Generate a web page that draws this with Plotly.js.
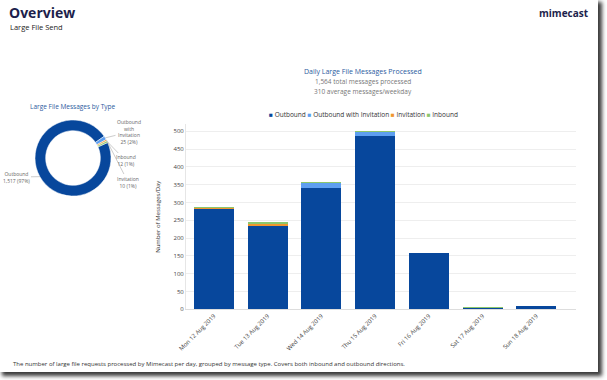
<!DOCTYPE html>
<html><head><meta charset="utf-8">
<script src="https://cdn.plot.ly/plotly-3.0.1.min.js"></script>
<style>
html,body{margin:0;padding:0;background:#fff;width:607px;height:380px;overflow:hidden}
#wrap{position:absolute;left:0;top:0;width:598px;height:372px;background:#fff;box-shadow:3px 3px 4px 1px #3a3a3a}
#chart{width:598px;height:372px}
</style></head><body><div id="wrap"><div id="chart"></div></div>
<script>
const days = ['Mon 12 Aug 2019','Tue 13 Aug 2019','Wed 14 Aug 2019','Thu 15 Aug 2019','Fri 16 Aug 2019','Sat 17 Aug 2019','Sun 18 Aug 2019'];
const seriesNames = ['Outbound','Outbound with Invitation','Invitation','Inbound'];
const outbound = [283,235,341,487,157,5,9];
const outboundInv = [0,0,13,12,0,0,0];
const invitation = [3,6,1,0,0,0,0];
const inbound = [2,4,2,2,0,1,1];
const pieLabels = ['Outbound','Outbound with Invitation','Invitation','Inbound'];
const pieValues = [1517,25,10,12];
const yTicks = [0,50,100,150,200,250,300,350,400,450,500];

const colors = ['#07479c','#5d9ff0','#f0962e','#8cc66c'];
const W = 598, H = 372;
const F = '"Open Sans", sans-serif';
const px = x => x / W, py = y => 1 - y / H;

const series = [outbound, outboundInv, invitation, inbound];
const traces = series.map((vals, i) => ({
  type: 'bar', x: days, y: vals, name: seriesNames[i],
  marker: {color: colors[i], line: {width: 0}},
  xaxis: 'x', yaxis: 'y', hoverinfo: 'skip', showlegend: false
}));

// donut geometry
const pieDom = {x: [px(35), px(111)], y: [py(196), py(120)]};
const rotation = 66;
const total = pieValues.reduce((a, b) => a + b, 0);
traces.push({
  type: 'pie', labels: pieLabels, values: pieValues, hole: 0.72, sort: false,
  direction: 'clockwise', rotation: rotation, textinfo: 'none', hoverinfo: 'skip',
  marker: {colors: colors, line: {color: '#ffffff', width: 0.5}},
  domain: pieDom, showlegend: false
});

// compute slice mid-angles for leader lines
const cx = 73, cy = 158, R = 38;
let acc = 0;
const mids = pieValues.map(v => { const a = rotation + (acc + v / 2) / total * 360; acc += v; return a; });
const headPt = i => { const a = mids[i] * Math.PI / 180; return [cx + R * Math.sin(a), cy - R * Math.cos(a)]; };
const pct = v => Math.round(v / total * 100);
const fmt = v => v.toLocaleString('en-US');

const labelPos = {
  0: {x: 16, y: 177, txt: pieLabels[0] + '<br>' + fmt(pieValues[0]) + ' (' + pct(pieValues[0]) + '%)'},
  1: {x: 129, y: 132, txt: 'Outbound<br>with<br>Invitation<br>' + fmt(pieValues[1]) + ' (' + pct(pieValues[1]) + '%)'},
  3: {x: 126, y: 161, txt: pieLabels[3] + '<br>' + fmt(pieValues[3]) + ' (' + pct(pieValues[3]) + '%)'},
  2: {x: 128, y: 182, txt: pieLabels[2] + '<br>' + fmt(pieValues[2]) + ' (' + pct(pieValues[2]) + '%)'}
};

const annotations = [];
Object.keys(labelPos).forEach(k => {
  const i = +k, L = labelPos[k], h = headPt(i);
  annotations.push({
    xref: 'paper', yref: 'paper', x: px(h[0]), y: py(h[1]),
    ax: L.x - h[0], ay: L.y - h[1], axref: 'pixel', ayref: 'pixel',
    text: L.txt, showarrow: true, arrowhead: 0, arrowwidth: 0.6, arrowcolor: '#aaaaaa',
    standoff: 0, font: {family: F, size: 5, color: '#666'}, align: 'center'
  });
});

const A = (x, y, text, size, color, opts) => Object.assign({
  xref: 'paper', yref: 'paper', x: px(x), y: py(y), text: text, showarrow: false,
  font: {family: F, size: size, color: color}
}, opts || {});

const sum = outbound.map((v, i) => v + outboundInv[i] + invitation[i] + inbound[i]);
const grand = sum.reduce((a, b) => a + b, 0);
const weekdayAvg = Math.round(sum.slice(0, 5).reduce((a, b) => a + b, 0) / 5);

const legendText = seriesNames.map((n, i) =>
  '<span style="color:' + colors[i] + '">■</span><span style="color:#333333"> ' + n + ' </span>').join('');

annotations.push(
  A(7, 13, '<b>Overview</b>', 14, '#1d1f4c', {xanchor: 'left', yanchor: 'middle'}),
  A(8, 27, 'Large File Send', 7.5, '#222', {xanchor: 'left', yanchor: 'middle'}),
  A(591, 13, '<b>mimecast</b>', 10, '#1d1f4c', {xanchor: 'right', yanchor: 'middle'}),
  A(73, 107, 'Large File Messages by Type', 6.5, '#2b5b9e', {xanchor: 'center', yanchor: 'middle'}),
  A(363, 71, 'Daily Large File Messages Processed', 7, '#2b5b9e', {xanchor: 'center', yanchor: 'middle'}),
  A(363, 81, fmt(grand) + ' total messages processed', 6.5, '#777', {xanchor: 'center', yanchor: 'middle'}),
  A(363, 91, weekdayAvg + ' average messages/weekday', 6.5, '#777', {xanchor: 'center', yanchor: 'middle'}),
  A(364, 115, legendText, 6.5, '#333', {xanchor: 'center', yanchor: 'middle'}),
  A(11, 364, 'The number of large file requests processed by Mimecast per day, grouped by message type. Covers both inbound and outbound directions.', 6, '#333', {xanchor: 'left', yanchor: 'middle'})
);

const layout = {
  width: W, height: H, margin: {l: 0, r: 0, t: 0, b: 0},
  paper_bgcolor: '#fff', plot_bgcolor: '#fff', barmode: 'stack', bargap: 0.255,
  font: {family: F},
  xaxis: {domain: [px(186), px(576)], range: [-0.52, 6.74], tickangle: -45,
    tickfont: {family: F, size: 6, color: '#444'}, showline: true, linecolor: '#ddd', linewidth: 1,
    showgrid: false, ticks: '', automargin: false, fixedrange: true},
  yaxis: {domain: [py(309.3), py(124.2)], range: [0, 520], tickvals: yTicks,
    tickfont: {family: F, size: 6, color: '#444'}, showline: true, linecolor: '#e6e6e6', linewidth: 1,
    gridcolor: '#eeeeee', gridwidth: 1, zeroline: false, ticks: '', automargin: false,
    title: {text: 'Number of Messages/Day', font: {family: F, size: 6, color: '#333'}, standoff: 12}},
  annotations: annotations
};

Plotly.newPlot('chart', traces, layout, {displayModeBar: false, staticPlot: true});
</script></body></html>
